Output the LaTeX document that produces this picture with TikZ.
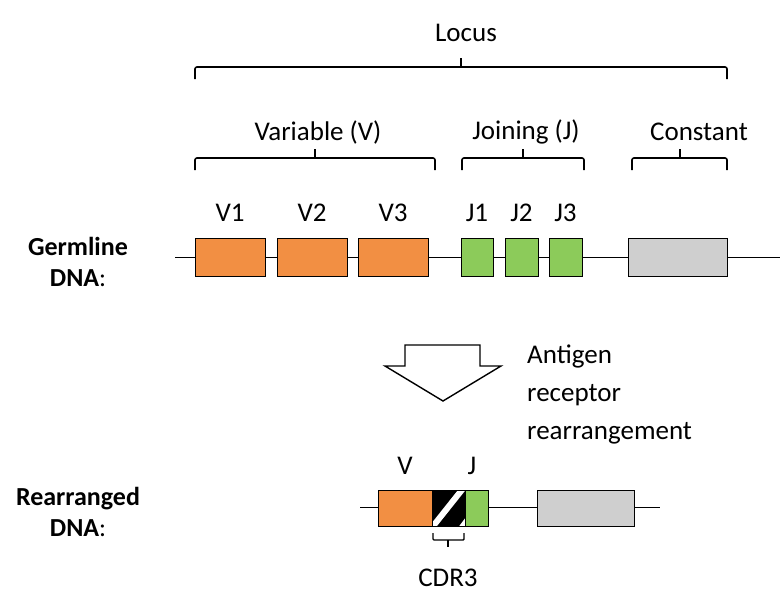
\documentclass[tikz,border=0pt]{standalone}
\usepackage{fontspec}
\setmainfont{Carlito}
\definecolor{vor}{RGB}{242,143,67}
\definecolor{jgr}{RGB}{140,203,90}
\definecolor{cgr}{RGB}{207,207,207}
\begin{document}
\begin{tikzpicture}[x=1pt,y=-1pt,
  seg/.style={draw=black,line width=1pt},
  lbl/.style={font=\fontsize{27}{30}\selectfont,inner sep=0pt},
  brk/.style={line width=1.6pt,rounded corners=2pt}]
\useasboundingbox (0,0) rectangle (782,600);
\draw[brk] (195,79) -- (195,67) -- (727,67) -- (727,79);
\draw[brk] (461,67) -- (461,58);
\node[lbl] (locus) at (466,33) {Locus};
\draw[brk] (195,170) -- (195,158) -- (435,158) -- (435,170);
\draw[brk] (315,158) -- (315,149);
\node[lbl] (var) at (318,132) {Variable (V)};
\draw[brk] (462,170) -- (462,158) -- (584,158) -- (584,170);
\draw[brk] (523,158) -- (523,149);
\node[lbl] (join) at (526,132) {Joining (J)};
\draw[brk] (632,170) -- (632,158) -- (727,158) -- (727,170);
\draw[brk] (680,158) -- (680,149);
\node[lbl] (const) at (699,132) {Constant};
% germline
\node[lbl,font=\fontsize{26}{31}\selectfont\bfseries,align=center] (germ) at (78,262) {Germline\\DNA\textmd{:}};
\coordinate (gl) at (175,257); \coordinate (gr) at (780,257);
\draw[line width=1pt] (gl) -- (gr);
\foreach \a/\b/\n in {195/265/V1,277/347/V2,358/428/V3}{
  \draw[seg,fill=vor] (\a,238) rectangle (\b,276);
  \node[lbl] at ({(\a+\b)/2},213) {\n};}
\foreach \a/\b/\n in {461/493/J1,505/538/J2,549/582/J3}{
  \draw[seg,fill=jgr] (\a,238) rectangle (\b,276);
  \node[lbl] at ({(\a+\b)/2},213) {\n};}
\draw[seg,fill=cgr] (628,238) rectangle (727,276);
% arrow
\draw[line width=1.4pt,fill=white] (405,345) -- (480,345) -- (480,366) -- (501,366) -- (443,401) -- (385,366) -- (405,366) -- cycle;
\node[lbl,align=left,anchor=west,font=\fontsize{27}{38}\selectfont] (ant) at (527,394) {Antigen\\receptor\\rearrangement};
% rearranged
\node[lbl,font=\fontsize{26}{31}\selectfont\bfseries,align=center] (rearr) at (78,512) {Rearranged\\DNA\textmd{:}};
\draw[line width=1pt] (360,507) -- (660,507);
\draw[seg,fill=vor] (378,490) rectangle (432,526);
\begin{scope}
\clip (432,490) rectangle (465,526);
\fill[black] (432,490) rectangle (465,526);
\draw[white,line width=6pt] (430,530) -- (465,486);
\draw[white,line width=6pt] (457,534) -- (472,514);
\end{scope}
\draw[seg] (432,490) rectangle (465,526);
\draw[seg,fill=jgr] (465,490) rectangle (488,526);
\draw[seg,fill=cgr] (537,490) rectangle (634,526);
\node[lbl] (v) at (405,466) {V};
\node[lbl] (j) at (472,466) {J};
\draw[line width=1.4pt,rounded corners=1pt] (433,533) -- (433,540) -- (464,540) -- (464,533);
\draw[line width=1.4pt] (448,540) -- (448,547);
\node[lbl] (cdr) at (448,578) {CDR3};
\end{tikzpicture}
\end{document}
